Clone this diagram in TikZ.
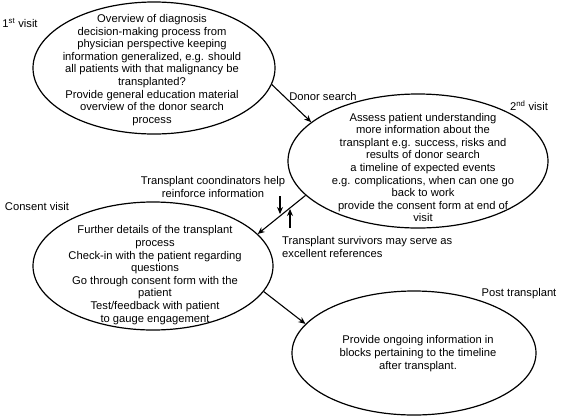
\documentclass[tikz,border=0pt]{standalone}
\usepackage{fontspec}
\setmainfont{Liberation Sans}
\usetikzlibrary{shapes.geometric,arrows.meta}
\tikzset{
  visit/.style={ellipse, draw, line width=1.2pt, inner sep=0pt},
  body/.style={align=center, font=\fontsize{11.2}{12.6}\selectfont, inner sep=0pt},
  lbl/.style={font=\fontsize{11.2}{12.6}\selectfont, inner sep=0pt},
  flow/.style={line width=1.1pt, -{Stealth[length=7pt,width=6pt]}},
}
\begin{document}
\begin{tikzpicture}[x=1pt,y=-1pt]
\useasboundingbox (0,0) rectangle (579,416);
% ellipses
\node[visit, minimum width=242pt, minimum height=132pt] (e1) at (154,68) {};
\node[visit, minimum width=260pt, minimum height=134pt] (e2) at (418,161) {};
\node[visit, minimum width=240pt, minimum height=128pt] (e3) at (153,266) {};
\node[visit, minimum width=244pt, minimum height=124pt] (e4) at (414,353) {};
% texts
\node[body] (t1) at (152,70) {Overview of diagnosis\\decision-making process from\\physician perspective keeping\\information generalized, e.g. should\\all patients with that malignancy be\\transplanted?\\Provide general education material\\overview of the donor search\\process};
\node[body] (t2) at (423,167.5) {Assess patient understanding\\more information about the\\transplant e.g. success, risks and\\results of donor search\\a timeline of expected events\\e.g. complications, when can one go\\back to work\\provide the consent form at end of\\visit};
\node[body] (t3) at (155,275) {Further details of the transplant\\process\\Check-in with the patient regarding\\questions\\Go through consent form with the\\patient\\Test/feedback with patient\\to gauge engagement};
\node[body] (t4) at (418,353.5) {Provide ongoing information in\\blocks pertaining to the timeline\\after transplant.};
% labels
\node[lbl] (l1) at (20,23) {1\textsuperscript{st} visit};
\node[lbl] (l2) at (323,96) {Donor search};
\node[lbl] (l3) at (529,106) {2\textsuperscript{nd} visit};
\node[lbl, align=center] (l4) at (213,187) {Transplant coondinators help\\reinforce information};
\node[lbl] (l5) at (37,206) {Consent visit};
\node[lbl, align=left, anchor=west] (l6) at (282,247) {Transplant survivors may serve as\\excellent references};
\node[lbl] (l7) at (519,294) {Post transplant};
% connectors
\draw[flow] (e1.-8.5) -- (e2.160);
\draw[flow] (e2.197) -- (e3.17);
\draw[flow] (e3.-13.3) -- (e4.165);
\coordinate (d1) at (280,196);
\coordinate (d2) at (280,214);
\coordinate (u1) at (290,228);
\coordinate (u2) at (290,209);
\draw[flow] (d1) -- (d2);
\draw[flow] (u1) -- (u2);
\end{tikzpicture}
\end{document}
